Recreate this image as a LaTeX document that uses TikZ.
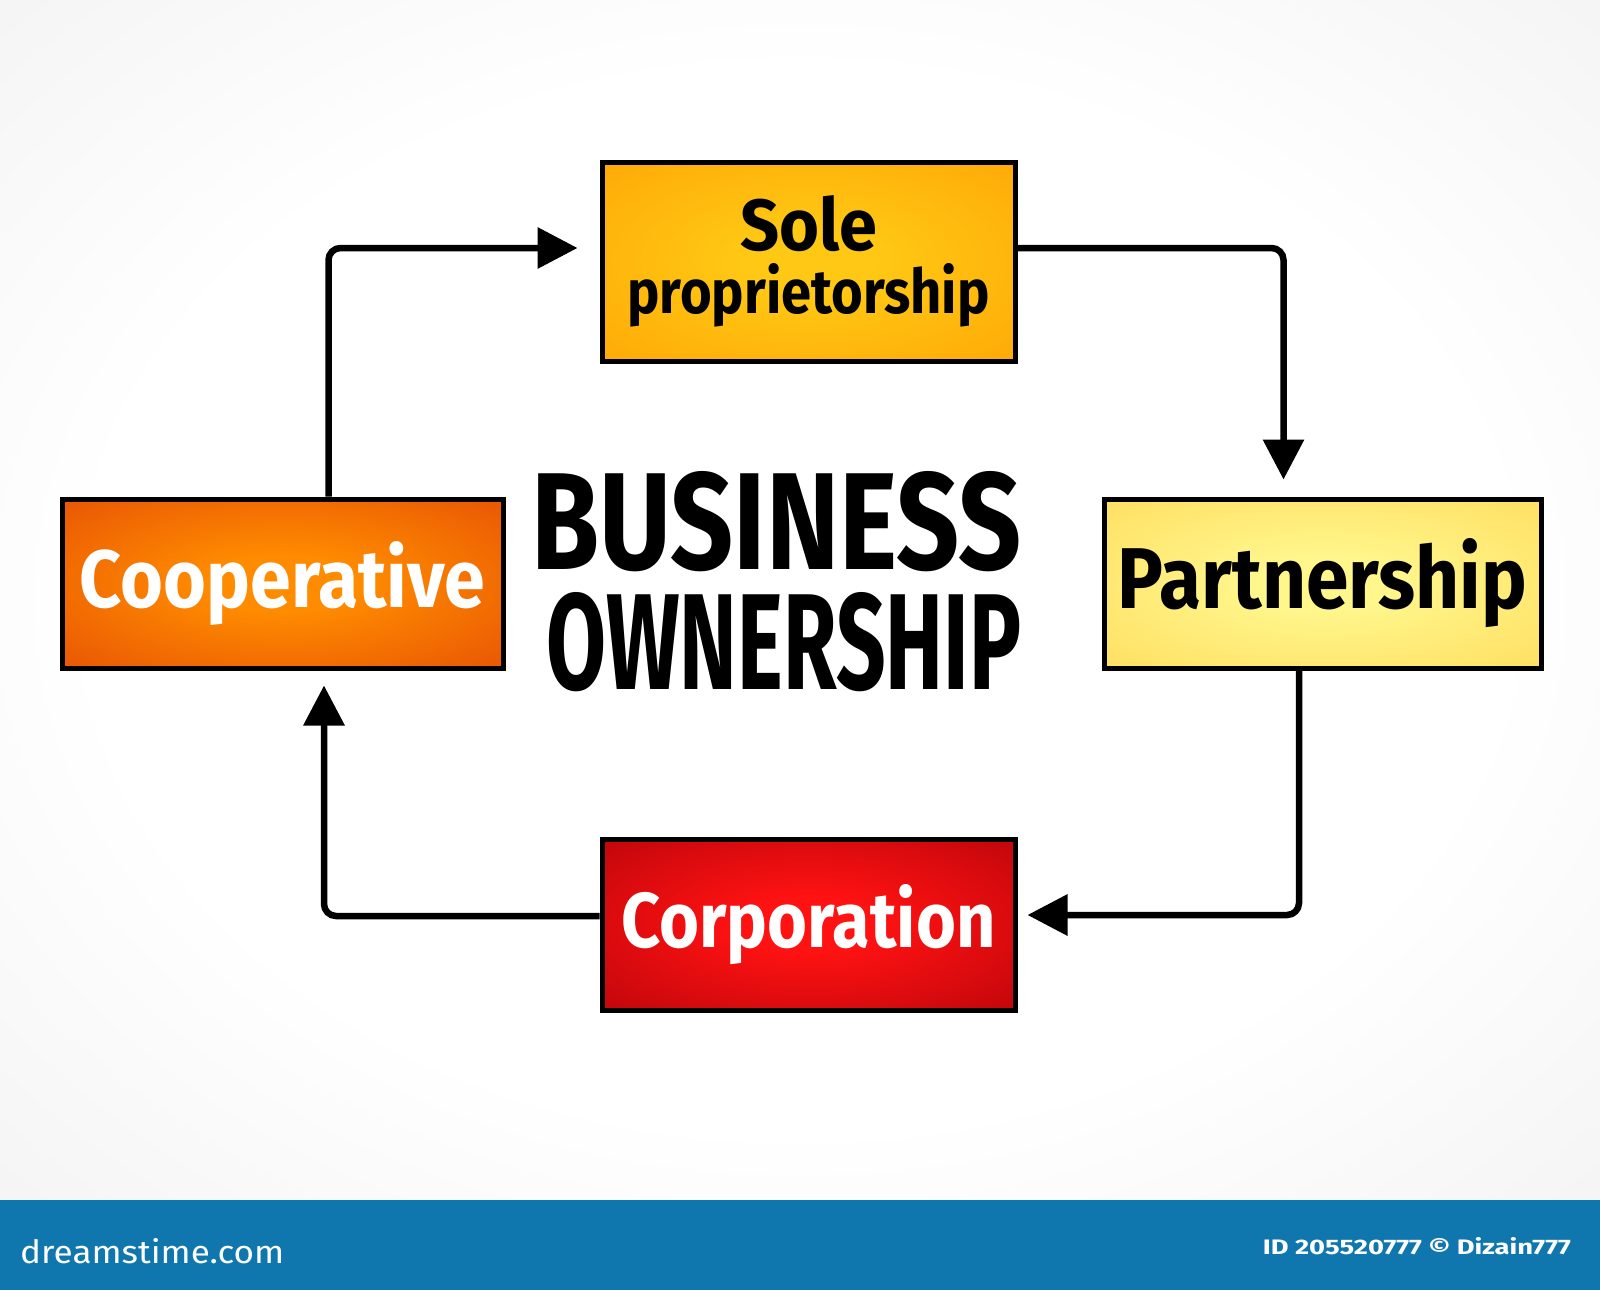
\documentclass[tikz,border=0pt]{standalone}
\usepackage{fontspec}
\usepackage{graphicx}
\usetikzlibrary{arrows.meta,calc}
\newfontfamily\handfont{Fira Sans}

\definecolor{soleIn}{HTML}{FFC814}
\definecolor{soleOut}{HTML}{FF9A00}
\definecolor{coopIn}{HTML}{FF8C00}
\definecolor{coopOut}{HTML}{DD3A06}
\definecolor{partIn}{HTML}{FFF68C}
\definecolor{partOut}{HTML}{FFD44C}
\definecolor{corpIn}{HTML}{FF1212}
\definecolor{corpOut}{HTML}{A10008}
\definecolor{bgOut}{HTML}{D9D9D9}
\definecolor{barblue}{HTML}{0F76AE}

\pgfdeclareradialshading{soleglow}{\pgfpoint{0bp}{0bp}}{color(0bp)=(soleIn); color(8bp)=(soleIn); color(50bp)=(soleOut); color(100bp)=(soleOut)}
\pgfdeclareradialshading{coopglow}{\pgfpoint{0bp}{0bp}}{color(0bp)=(coopIn); color(8bp)=(coopIn); color(50bp)=(coopOut); color(100bp)=(coopOut)}
\pgfdeclareradialshading{partglow}{\pgfpoint{0bp}{0bp}}{color(0bp)=(partIn); color(8bp)=(partIn); color(50bp)=(partOut); color(100bp)=(partOut)}
\pgfdeclareradialshading{corpglow}{\pgfpoint{0bp}{0bp}}{color(0bp)=(corpIn); color(8bp)=(corpIn); color(50bp)=(corpOut); color(100bp)=(corpOut)}
\pgfdeclareradialshading{bgglow}{\pgfpoint{0bp}{0bp}}{color(0bp)=(white); color(22bp)=(white); color(71bp)=(bgOut); color(100bp)=(bgOut)}

\begin{document}
\begin{tikzpicture}[x=1pt, y=-1pt,
    ownbox/.style={draw=black, line width=5pt, inner sep=0pt, font=\handfont\bfseries},
    flow/.style={draw=black, line width=6.5pt, rounded corners=12pt, -{Triangle[length=40pt, width=40pt]}}]
    \useasboundingbox (0,0) rectangle (1600,1290);
    \shade[shading=bgglow] (0,0) rectangle (1600,1200);
    \fill[barblue] (0,1200) rectangle (1600,1290);

    % the four forms of ownership
    \node[ownbox, shading=soleglow, minimum width=413pt, minimum height=199pt,
        align=center, font=\handfont\bfseries\fontsize{10}{63}\selectfont] (sole) at (808.5,261.5)
        {\resizebox{137pt}{55pt}{Sole}\\\resizebox{362pt}{50pt}{proprietorship}};
    \node[ownbox, shading=coopglow, minimum width=441pt, minimum height=169pt, text=white] (coop) at (282.5,583.5)
        {\resizebox{405pt}{66pt}{Cooperative}};
    \node[ownbox, shading=partglow, minimum width=437pt, minimum height=169pt] (part) at (1322.5,583.5)
        {\resizebox{409pt}{70pt}{Partnership}};
    \node[ownbox, shading=corpglow, minimum width=413pt, minimum height=171pt, text=white] (corp) at (808.5,924.5)
        {\resizebox{374pt}{63pt}{Corporation}};

    % title in the middle
    \node[anchor=east, align=right, inner sep=0pt, font=\handfont\bfseries\fontsize{10}{120}\selectfont] (title) at (1021.5,582)
        {\resizebox{490pt}{98pt}{BUSINESS}\\\resizebox{475pt}{97pt}{OWNERSHIP}};

    % the cycle
    \draw[flow] ($(coop.north west)+(269,0)$) |- ($(sole.west)+(-22,-13.5)$);
    \draw[flow] ($(sole.east)+(0,-13.5)$) -| ($(part.north)+(-39,-17)$);
    \draw[flow] ($(part.south)+(-23.5,0)$) |- ($(corp.east)+(10,-9.5)$);
    \draw[flow] ($(corp.west)+(0,-8.5)$) -| ($(coop.south)+(41.5,15)$);

    % footer bar
    \node[anchor=base west, inner sep=0pt, text=white, font=\handfont] (site) at (20,1263)
        {\resizebox{264pt}{25pt}{dreamstime.com}};
    \node[anchor=base east, inner sep=0pt, text=white, font=\handfont\bfseries] (credit) at (1571,1254)
        {\resizebox{308pt}{17pt}{ID 205520777 © Dizain777}};
\end{tikzpicture}
\end{document}
